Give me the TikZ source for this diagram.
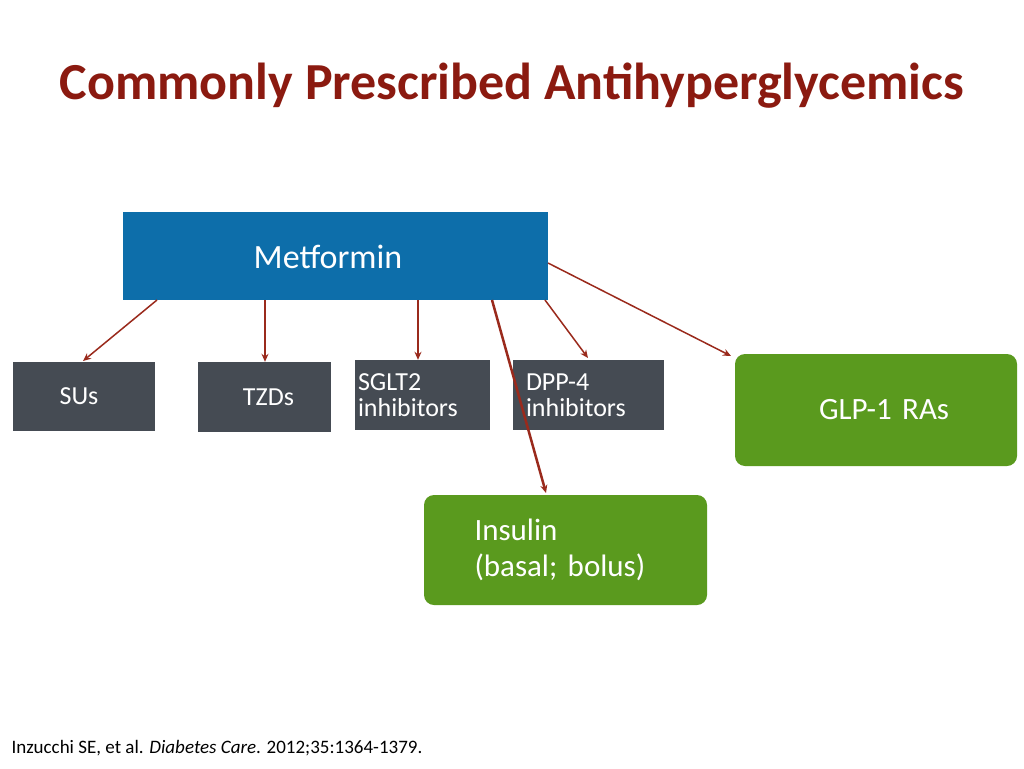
\documentclass[tikz,border=0pt]{standalone}
\usepackage{fontspec}
\setmainfont{Carlito}
\usetikzlibrary{arrows.meta}
\definecolor{tred}{HTML}{8B1A10}
\definecolor{mblue}{HTML}{0D6EAA}
\definecolor{dgray}{HTML}{454B53}
\definecolor{lgreen}{HTML}{5A9A1E}
\definecolor{arr}{HTML}{9A2A1C}
\tikzset{
 gbox/.style={fill=dgray,text=white,font=\fontsize{26}{29}\selectfont,inner sep=0pt},
 grn/.style={fill=lgreen,text=white,rounded corners=10pt,font=\fontsize{31}{36}\selectfont,inner sep=0pt},
 con/.style={draw=arr,line width=1.5pt,-{Stealth[length=8pt,width=7pt]}}
}
\begin{document}
\begin{tikzpicture}[x=1pt,y=-1pt]
\useasboundingbox (0,0) rectangle (1024,768);
\fill[white] (0,0) rectangle (1024,768);
\node[text=tred,font=\bfseries\fontsize{52}{56}\selectfont] (title) at (512,86) {Commonly Prescribed Antihyperglycemics};
\path[fill=mblue] (123,212) rectangle (548,300);
\node[text=white,font=\fontsize{34}{38}\selectfont] (met) at (328,257) {Metformin};
\node[gbox,minimum width=142pt,minimum height=69pt] (su) at (84,396) {\hspace*{-10pt}SUs};
\node[gbox,minimum width=133pt,minimum height=70pt] (tzd) at (264.5,397) {\hspace*{8pt}TZDs};
\node[gbox,minimum width=135pt,minimum height=70pt,align=left,text width=129pt] (sg) at (422.5,395) {SGLT2\\[-3pt]inhibitors};
\node[gbox,minimum width=151pt,minimum height=70pt,align=left,text width=125pt] (dpp) at (588.5,395) {DPP-4\\[-3pt]inhibitors};
\node[grn,minimum width=282pt,minimum height=112pt,align=left,text width=220pt] (glp) at (876,410) {\hspace*{53pt}GLP-1 RAs};
\node[grn,minimum width=283pt,minimum height=110pt,align=left,text width=182pt] (ins) at (565.5,550) {Insulin\\(basal; bolus)};
\coordinate (a1) at (157,300); \coordinate (a2) at (265,300); \coordinate (a3) at (418,300);
\coordinate (a4) at (545,300); \coordinate (a5) at (548,263); \coordinate (a6) at (492,300);
\draw[con] (a1) -- (83,361);
\draw[con] (a2) -- (tzd.north -| a2);
\draw[con] (a3) -- (sg.north -| a3);
\draw[con] (a4) -- (588,358);
\draw[con] (a5) -- (731,356);
\draw[con,line width=2.5pt] (a6) -- (546,493);
\node[anchor=west,font=\fontsize{19}{22}\selectfont] (cite) at (8,748) {Inzucchi SE, et al. \textit{Diabetes Care}. 2012;35:1364-1379.};
\end{tikzpicture}
\end{document}
